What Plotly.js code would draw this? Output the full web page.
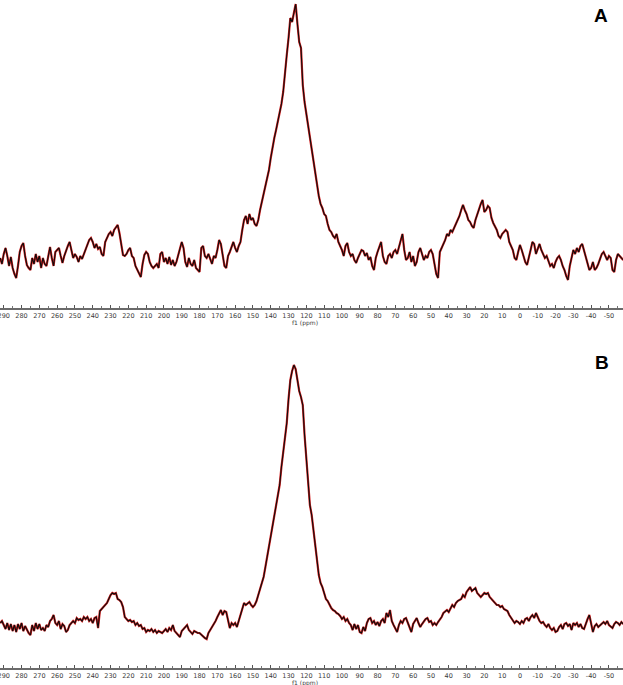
<!DOCTYPE html>
<html>
<head>
<meta charset="utf-8">
<script src="https://cdn.plot.ly/plotly-3.0.1.min.js"></script>
<style>html,body{margin:0;padding:0;background:#fff;}#chart{width:623px;height:685px;}</style>
</head>
<body>
<div id="chart"></div>
<script>
// Chemical shift grid (ppm), sampled every 1 ppm from 292 down to -58
const ppmStart = 292;
const ppmStep = 1;
const nPoints = 351;

// Spectrum A intensities (arbitrary units), ppm 292 -> -58
const spectrumA = [
  2, -4, 6, 12, 4, -6, 3, -8, -14, -18,
  -6, 8, 14, 17, 4, -5, -8, -10, 2, -4,
  6, -2, 4, -8, 2, -4, -6, 5, 13, 2,
  -6, 8, 10, 12, 4, -3, 4, 10, 14, 18,
  8, 2, 6, 3, -2, 4, 1, 6, 12, 15,
  20, 22, 18, 12, 16, 11, 13, 6, 4, 18,
  22, 26, 28, 24, 30, 32, 35, 27, 14, 5,
  4, 6, 10, 12, 4, 2, -6, -10, -14, -17,
  -4, 5, 8, 6, -2, -6, -8, -6, -4, -8,
  6, 8, -2, 2, -4, 3, -5, 0, -6, -2,
  4, 10, 18, 12, -2, -7, 2, -4, -6, 0,
  -8, -10, -12, 12, 14, 4, 2, 6, 0, -4,
  4, 2, 10, 20, 16, 6, -6, -8, 4, 8,
  14, 18, 12, 8, 14, 18, 30, 40, 44, 36,
  46, 40, 42, 36, 34, 40, 50, 58, 64, 72,
  80, 90, 102, 114, 122, 130, 138, 146, 156, 168,
  190, 205, 222, 242, 238, 248, 256, 236, 218, 212,
  175, 158, 146, 132, 124, 110, 96, 86, 74, 64,
  56, 52, 46, 44, 36, 30, 28, 24, 22, 26,
  18, 14, 10, 4, 14, 17, 8, 4, 6, 0,
  -3, 2, 6, 10, 9, 4, 7, 0, 3, -6,
  -10, 2, 8, 14, 18, 4, -2, -4, 4, 6,
  2, 8, 10, 6, 12, 20, 26, 10, 0, 2,
  8, -2, 4, -6, -2, 8, 12, 6, 0, 4,
  2, 8, 10, 6, -4, -14, -18, 8, 12, 16,
  20, 26, 24, 30, 28, 32, 36, 40, 44, 50,
  55, 50, 46, 40, 38, 34, 32, 40, 46, 52,
  56, 60, 48, 50, 54, 52, 42, 37, 34, 30,
  24, 22, 26, 28, 30, 28, 18, 14, 10, 2,
  0, 8, 15, 10, 4, -2, -5, 4, 10, 18,
  16, 6, 12, 16, 10, 6, 2, 4, -2, -6,
  -4, -8, -2, 2, 4, 0, -6, -10, -16, -20,
  -6, 4, 10, 6, 12, 8, 14, 16, 10, 2,
  -4, -10, -8, -2, -10, -8, -4, 2, 6, 8,
  4, 0, 4, 2, -10, -12, 0, 6, 4, 2,
  0
];

// Spectrum B intensities (arbitrary units), ppm 292 -> -58
const spectrumB = [
  4, 6, 2, -2, 4, -3, 3, -4, 2, -5,
  3, -2, 4, -4, 1, -3, -6, -8, 2, -4,
  4, -2, 3, -3, -1, -4, 2, 0, 6, 8,
  12, 4, 2, 6, -2, 3, 1, -5, -3, 2,
  4, 6, 4, 9, 7, 8, 6, 10, 8, 10,
  6, 8, 4, 9, 10, -1, 16, 18, 20, 22,
  24, 28, 32, 34, 33, 34, 28, 27, 25, 20,
  10, 8, 6, 7, 5, 6, 2, 4, 1, 2,
  -2, -1, -5, -3, -4, -2, -5, -3, -6, -4,
  -5, -6, -4, -2, -5, -1, -3, 2, -4, -6,
  -8, -10, -4, -2, 0, 2, -3, -5, -7, -4,
  -5, -6, -6, -8, -9, -11, -12, -6, -3, 0,
  2, 6, 10, 14, 17, 12, 16, 15, 8, -1,
  4, 2, 4, 0, 6, 12, 20, 24, 22, 24,
  25, 22, 20, 22, 26, 32, 38, 44, 50, 60,
  70, 79, 88, 98, 108, 118, 130, 142, 160, 176,
  190, 204, 228, 247, 256, 262, 258, 246, 236, 230,
  222, 192, 168, 136, 122, 112, 96, 80, 64, 52,
  44, 40, 34, 28, 26, 22, 19, 17, 16, 14,
  13, 11, 8, 10, 6, 8, 4, 2, -3, 3,
  -2, 2, -5, -6, 0, -4, 4, 8, 9, 4,
  6, 2, 5, 1, 6, 8, 4, 14, 10, 17,
  6, 2, -2, -5, 2, 6, 4, 8, 9, 4,
  -1, -5, 3, 6, 9, 4, 0, 3, 6, 8,
  9, 5, 6, 2, 4, 2, 5, 7, 10, 14,
  16, 17, 15, 18, 22, 20, 24, 26, 27, 28,
  32, 30, 35, 38, 40, 36, 38, 39, 34, 32,
  30, 32, 34, 33, 34, 30, 28, 25, 24, 22,
  22, 20, 21, 18, 17, 16, 12, 9, 7, 4,
  6, 5, 3, 6, 4, 8, 9, 6, 10, 12,
  9, 14, 10, 6, 4, 5, 2, 0, 3, -1,
  -3, -1, -5, -4, 0, 2, -2, 3, 4, 1,
  3, -3, 4, 2, 4, 0, 3, -1, -2, 4,
  8, 12, 2, -5, 1, 3, 0, 2, 4, 5,
  3, 6, 2, 0, -1, 3, 5, 4, 2, 5,
  3
];

// Axis tick positions and their printed labels
const tickValues = [290, 280, 270, 260, 250, 240, 230, 220, 210, 200, 190, 180, 170, 160, 150, 140, 130, 120, 110, 100, 90, 80, 70, 60, 50, 40, 30, 20, 10, 0, -10, -20, -30, -40, -50];
const tickLabels = ["290", "280", "270", "260", "250", "240", "230", "220", "210", "200", "190", "180", "170", "160", "150", "140", "130", "120", "110", "100", "90", "80", "70", "60", "50", "40", "30", "20", "10", "0", "-10", "-20", "-30", "-40", "-50"];

const panelLabels = ["A", "B"];
const axisTitle = "f1 (ppm)";

const ppm = [];
for (let i = 0; i < nPoints; i++) ppm.push(ppmStart - i * ppmStep);

function traces(y, xa, ya) {
  return [
    {x: ppm, y: y, xaxis: xa, yaxis: ya, type: "scatter", mode: "lines",
     line: {color: "#d42020", width: 2.2}, hoverinfo: "skip", showlegend: false},
    {x: ppm, y: y, xaxis: xa, yaxis: ya, type: "scatter", mode: "lines",
     line: {color: "#0d0d0d", width: 1.1}, hoverinfo: "skip", showlegend: false}
  ];
}

const data = [].concat(traces(spectrumA, "x", "y"), traces(spectrumB, "x2", "y2"));

function xaxisDef(anchor) {
  return {
    anchor: anchor,
    domain: [0, 1],
    range: [292.1, -57.9],
    tickmode: "array",
    tickvals: tickValues,
    ticktext: tickLabels,
    ticks: "inside",
    ticklen: 3,
    tickwidth: 1,
    tickcolor: "#555",
    ticklabeloverflow: "allow",
    minor: {tickmode: "linear", tick0: 5, dtick: 10, ticks: "inside", ticklen: 2, tickcolor: "#777"},
    showline: true,
    linecolor: "#6a6a6a",
    linewidth: 2,
    showgrid: false,
    zeroline: false,
    automargin: false,
    tickfont: {family: "DejaVu Sans", size: 6.5, color: "#3a3a3a"}
  };
}

const layout = {
  width: 623,
  height: 685,
  margin: {l: 0, r: 0, t: 0, b: 0},
  paper_bgcolor: "#ffffff",
  plot_bgcolor: "#ffffff",
  showlegend: false,
  xaxis: xaxisDef("y"),
  yaxis: {domain: [0.5504, 1], range: [-48, 260], visible: false, fixedrange: true},
  xaxis2: xaxisDef("y2"),
  yaxis2: {domain: [0.0248, 0.5036], range: [-41, 287], visible: false, fixedrange: true},
  annotations: [
    {text: panelLabels[0], xref: "paper", yref: "paper", x: 0.964, y: 0.978,
     xanchor: "center", yanchor: "middle", showarrow: false,
     font: {family: "Liberation Sans", size: 19, color: "#000", weight: "bold"}},
    {text: panelLabels[1], xref: "paper", yref: "paper", x: 0.966, y: 0.4715,
     xanchor: "center", yanchor: "middle", showarrow: false,
     font: {family: "Liberation Sans", size: 19, color: "#000", weight: "bold"}},
    {text: axisTitle, xref: "paper", yref: "paper", x: 305 / 623, y: (685 - 323) / 685,
     xanchor: "center", yanchor: "middle", showarrow: false,
     font: {family: "DejaVu Sans", size: 6, color: "#3a3a3a"}},
    {text: axisTitle, xref: "paper", yref: "paper", x: 305 / 623, y: (685 - 682.5) / 685,
     xanchor: "center", yanchor: "middle", showarrow: false,
     font: {family: "DejaVu Sans", size: 6, color: "#3a3a3a"}}
  ]
};

Plotly.newPlot("chart", data, layout, {staticPlot: true, displayModeBar: false});
</script>
</body>
</html>
